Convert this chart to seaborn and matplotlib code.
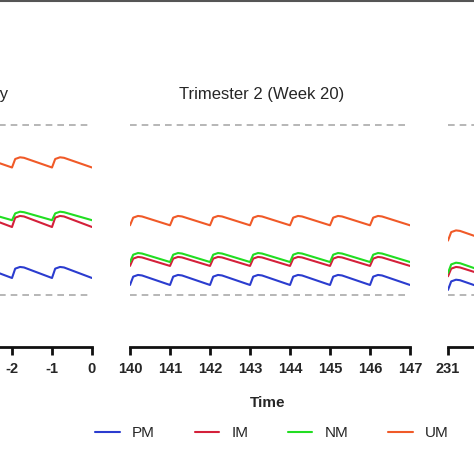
import matplotlib
matplotlib.use("Agg")
import matplotlib.pyplot as plt
import seaborn as sns
import pandas as pd
from matplotlib.lines import Line2D

sns.set_style("white")
plt.rcParams['font.family'] = ['Liberation Sans', 'DejaVu Sans']

series = ["PM", "IM", "NM", "UM"]
colors = {"PM": "#2b3ccf", "IM": "#d4203a", "NM": "#22dd22", "UM": "#f05a28"}

# panel time ranges (days) and tick labels
left_days = [-7, -6, -5, -4, -3, -2, -1, 0]
mid_days = [140, 141, 142, 143, 144, 145, 146, 147]
right_days = [231, 232, 233, 234, 235, 236, 237, 238]

# relative concentration levels per series: trough at dose, peak after dose
left_trough = {"PM": 0.10, "IM": 0.40, "NM": 0.44, "UM": 0.75}
left_peak = {"PM": 0.165, "IM": 0.465, "NM": 0.49, "UM": 0.81}
mid_trough = {"PM": 0.059, "IM": 0.171, "NM": 0.194, "UM": 0.41}
mid_peak = {"PM": 0.118, "IM": 0.224, "NM": 0.247, "UM": 0.465}
right_trough = {"PM": 0.03, "IM": 0.11, "NM": 0.13, "UM": 0.32}
right_peak = {"PM": 0.09, "IM": 0.165, "NM": 0.19, "UM": 0.38}


def build(days, trough, peak):
    rows = []
    for s in series:
        for d in days[:-1]:
            rows.append((d, trough[s], s))
            rows.append((d + 0.08, peak[s] - 0.01, s))
            rows.append((d + 0.2, peak[s], s))
            rows.append((d + 0.3, peak[s] - 0.003, s))
        rows.append((days[-1], trough[s], s))
    return pd.DataFrame(rows, columns=["t", "c", "s"])


W = H = 474
fig = plt.figure(figsize=(4.74, 4.74), dpi=100)
ytop, ybot = 116.5, 303.5
pw = 280


def make_ax(left_px, days, trough, peak):
    ax = fig.add_axes([left_px / W, 1 - ybot / H, pw / W, (ybot - ytop) / H])
    df = build(days, trough, peak)
    sns.lineplot(data=df, x="t", y="c", hue="s", palette=colors, ax=ax,
                 legend=False, lw=1.5, sort=False, estimator=None)
    ax.axhline(1, color="#aaaaaa", ls=(0, (4, 3)), lw=1.2)
    ax.axhline(0, color="#aaaaaa", ls=(0, (4, 3)), lw=1.2)
    ax.set_xlim(days[0], days[-1])
    ax.set_ylim(-0.05, 1.05)
    for sp in ["top", "right", "left"]:
        ax.spines[sp].set_visible(False)
    ax.spines["bottom"].set_position(("outward", 31.3))
    ax.spines["bottom"].set_linewidth(2)
    ax.spines["bottom"].set_color("#111111")
    ax.set_xticks(days)
    ax.set_xticklabels([str(d) for d in days], fontweight="bold", fontsize=10.5)
    ax.tick_params(axis="x", bottom=True, direction="out", length=6, width=2,
                   pad=5, color="#111111")
    ax.set_yticks([])
    ax.set_xlabel("")
    ax.set_ylabel("")
    return ax


make_ax(92 - pw, left_days, left_trough, left_peak)
make_ax(130, mid_days, mid_trough, mid_peak)
make_ax(448, right_days, right_trough, right_peak)

fig.text(9 / W, 1 - 94 / H, "Prepregnancy", ha="right", va="center", fontsize=12)
fig.text(262 / W, 1 - 94 / H, "Trimester 2 (Week 20)", ha="center", va="center", fontsize=12)
fig.text(268 / W, 1 - 403 / H, "Time", ha="center", va="center", fontsize=11, fontweight="bold")
fig.add_artist(Line2D([0, 1], [0.998, 0.998], color="#555555", lw=1.5))

handles = [Line2D([], [], color=colors[s], lw=1.5) for s in series]
fig.legend(handles, series, loc="center", bbox_to_anchor=(272 / W, 1 - 433 / H),
           ncol=4, frameon=False, fontsize=11, handlelength=1.6, columnspacing=2.6)

fig.savefig("out.png", dpi=100)
